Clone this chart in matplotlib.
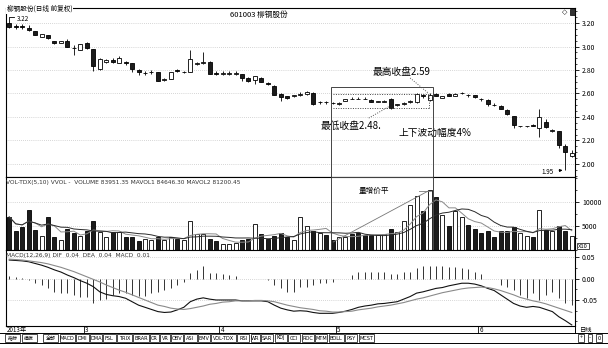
import numpy as np
import pandas as pd
import matplotlib
matplotlib.use('Agg')
import matplotlib.pyplot as plt
from matplotlib.patches import Rectangle
from matplotlib.ticker import AutoMinorLocator, FormatStrFormatter

plt.rcParams['font.family'] = ['Noto Sans CJK SC', 'DejaVu Sans']

# 601003 柳钢股份 daily candles
opens = [3.20, 3.172, 3.172, 3.16, 3.13, 3.08, 3.10, 3.045, 3.03, 3.05,
         2.99, 2.97, 3.03, 2.98, 2.81, 2.87, 2.885, 2.86, 2.866, 2.86,
         2.80, 2.772, 2.78, 2.78, 2.712, 2.72, 2.797, 2.78, 2.78, 2.85,
         2.86, 2.87, 2.776, 2.77, 2.77, 2.77, 2.765, 2.73, 2.715, 2.73,
         2.686, 2.66, 2.595, 2.575, 2.575, 2.585, 2.595, 2.60, 2.525, 2.53,
         2.52, 2.51, 2.54, 2.555, 2.555, 2.555, 2.545, 2.528, 2.53, 2.55,
         2.505, 2.51, 2.53, 2.53, 2.585, 2.545, 2.595, 2.565, 2.595, 2.58,
         2.60, 2.59, 2.59, 2.555, 2.545, 2.505, 2.495, 2.46, 2.41, 2.32,
         2.32, 2.328, 2.31, 2.36, 2.28, 2.28, 2.15, 2.07]
closes = [3.17, 3.166, 3.166, 3.14, 3.10, 3.11, 3.07, 3.03, 3.045, 3.00,
          2.985, 3.02, 2.99, 2.83, 2.89, 2.885, 2.87, 2.90, 2.86, 2.81,
          2.78, 2.778, 2.786, 2.71, 2.725, 2.78, 2.79, 2.786, 2.89, 2.856,
          2.866, 2.77, 2.77, 2.776, 2.776, 2.776, 2.735, 2.71, 2.745, 2.70,
          2.68, 2.59, 2.57, 2.565, 2.585, 2.595, 2.61, 2.51, 2.53, 2.525,
          2.515, 2.52, 2.55, 2.55, 2.55, 2.55, 2.53, 2.532, 2.54, 2.48,
          2.51, 2.52, 2.54, 2.595, 2.58, 2.59, 2.58, 2.575, 2.58, 2.595,
          2.605, 2.585, 2.57, 2.55, 2.51, 2.50, 2.47, 2.425, 2.33, 2.323,
          2.323, 2.322, 2.40, 2.315, 2.29, 2.16, 2.10, 2.09]
highs = [3.22, 3.19, 3.19, 3.18, 3.13, 3.11, 3.10, 3.05, 3.05, 3.06,
         3.01, 3.02, 3.04, 2.98, 2.90, 2.89, 2.90, 2.92, 2.88, 2.86,
         2.81, 2.79, 2.80, 2.78, 2.73, 2.78, 2.81, 2.79, 2.97, 2.87,
         2.95, 2.88, 2.79, 2.79, 2.79, 2.79, 2.77, 2.74, 2.75, 2.74,
         2.70, 2.67, 2.60, 2.58, 2.59, 2.61, 2.62, 2.61, 2.54, 2.54,
         2.53, 2.525, 2.555, 2.57, 2.57, 2.57, 2.55, 2.535, 2.545, 2.56,
         2.51, 2.525, 2.545, 2.60, 2.595, 2.60, 2.60, 2.58, 2.60, 2.60,
         2.615, 2.595, 2.59, 2.565, 2.55, 2.515, 2.50, 2.465, 2.41, 2.325,
         2.325, 2.34, 2.47, 2.38, 2.30, 2.28, 2.17, 2.12]
lows = [3.16, 3.15, 3.15, 3.13, 3.10, 3.08, 3.06, 3.02, 3.03, 3.00,
        2.93, 2.97, 2.98, 2.79, 2.80, 2.86, 2.86, 2.86, 2.84, 2.78,
        2.76, 2.76, 2.77, 2.71, 2.71, 2.72, 2.78, 2.775, 2.78, 2.84,
        2.85, 2.77, 2.76, 2.76, 2.76, 2.76, 2.71, 2.70, 2.68, 2.70,
        2.67, 2.59, 2.54, 2.55, 2.57, 2.58, 2.59, 2.50, 2.51, 2.51,
        2.51, 2.505, 2.535, 2.55, 2.55, 2.55, 2.53, 2.525, 2.525, 2.47,
        2.49, 2.505, 2.52, 2.52, 2.565, 2.54, 2.575, 2.56, 2.575, 2.575,
        2.595, 2.57, 2.565, 2.54, 2.49, 2.49, 2.465, 2.42, 2.31, 2.318,
        2.318, 2.32, 2.23, 2.31, 2.27, 2.14, 1.95, 2.06]
volume = [6900, 4000, 4800, 8300, 4200, 2900, 6900, 2700, 2100, 4400,
          3500, 2900, 4000, 6000, 3700, 2700, 3700, 3700, 2700, 2800,
          1900, 2200, 2100, 2800, 2100, 2700, 2200, 2100, 6000, 3300,
          3300, 2200, 1900, 1300, 1300, 1500, 2100, 2200, 5400, 3300,
          2200, 2900, 3500, 2800, 2100, 6900, 5000, 4000, 3500, 3100,
          2100, 2700, 2700, 3300, 3500, 3100, 3100, 3100, 3300, 4400,
          3800, 6000, 9400, 11200, 8100, 12500, 11000, 7300, 5000, 8100,
          6900, 5200, 4400, 3500, 4000, 2700, 4000, 4000, 4800, 3500,
          2900, 2700, 8300, 4200, 4000, 5000, 4000, 2900]
# MACD(12,26,9) values in thousandths
dif_k = [43, 42, 41, 39, 35, 31, 26, 20, 15, 8, 2, -5, -11, -19, -31, -37,
         -40, -42, -46, -54, -62, -67, -72, -77, -79, -78, -73, -67, -54, -48,
         -45, -48, -50, -50, -50, -50, -52, -52, -52, -52, -54, -62, -69, -73,
         -76, -75, -76, -79, -81, -81, -81, -79, -76, -72, -67, -64, -62, -59,
         -58, -56, -54, -48, -42, -34, -31, -27, -23, -21, -17, -14, -11, -11,
         -13, -17, -23, -28, -38, -48, -58, -64, -67, -65, -67, -72, -77, -89,
         -98, -108]
dea_k = [45, 44, 43, 41, 39, 37, 34, 30, 26, 21, 16, 10, 4, -2, -8, -15,
         -21, -27, -32, -38, -44, -50, -56, -62, -65, -69, -71, -72, -70, -67,
         -64, -60, -58, -55, -54, -52, -52, -52, -51, -51, -52, -54, -58, -62,
         -65, -68, -70, -72, -75, -76, -78, -78, -77, -76, -73, -71, -69, -66,
         -64, -62, -59, -56, -52, -48, -45, -41, -37, -33, -30, -27, -24, -22,
         -21, -20, -21, -24, -28, -33, -38, -44, -48, -52, -55, -59, -64, -69,
         -74, -79]
macd_k = [5, 3, 1, -4, -11, -15, -21, -31, -33, -34, -38, -42, -42, -56, -50,
          -48, -38, -34, -34, -38, -41, -41, -34, -31, -27, -23, -15, -7, 12,
          20, 28, 12, 12, 10, 8, 6, 0, -2, 0, 0, -3, -15, -23, -31, -31, -19,
          -19, -15, -11, -11, -7, -2, 0, 8, 14, 16, 14, 14, 16, 10, 10, 14, 16,
          24, 28, 29, 29, 28, 26, 26, 24, 21, 16, 10, 0, -2, -15, -19, -27,
          -38, -46, -34, -50, -38, -31, -46, -58, -62]

month_pos = [12, 33, 51, 73]
month_lbl = ['3', '4', '5', '6']
price_ticks = [2.00, 2.20, 2.40, 2.60, 2.80, 3.00, 3.20]
vol_ticks = [5000, 10000]
macd_ticks = [-0.05, 0.00, 0.05]
buttons = ['指标', '模板', '全部', 'MACD', 'DMI', 'DMA', 'FSL', 'TRIX', 'BRAR',
           'CR', 'VR', 'OBV', 'ASI', 'EMV', 'VOL-TDX', 'RSI', 'WR', 'SAR',
           'KDJ', 'CCI', 'ROC', 'MTM', 'BOLL', 'PSY', 'MCST']

W, H = 608, 348


def rect(x0, y0, x1, y1):
    # pixel box -> figure fraction [l, b, w, h]
    return [x0 / W, 1 - y1 / H, (x1 - x0) / W, (y1 - y0) / H]


def fx(x):
    return x / W


def fy(y):
    return 1 - y / H


fig = plt.figure(figsize=(6.08, 3.48), dpi=100)
ax_p = fig.add_axes(rect(6, 8, 575, 177))
ax_v = fig.add_axes(rect(6, 177, 575, 250))
ax_m = fig.add_axes(rect(6, 250, 575, 326))

n = len(closes)
x = np.arange(n)
o, c, h, l = map(np.array, (opens, closes, highs, lows))
up = c >= o
dark = '#1c1c1c'

for ax in (ax_p, ax_v, ax_m):
    ax.set_xlim(-0.5, n - 0.5)
    ax.set_xticks([])
    ax.yaxis.tick_right()
    ax.tick_params(axis='y', which='major', length=3, width=0.6, labelsize=5, pad=2)
    ax.tick_params(axis='y', which='minor', length=1.5, width=0.5)
    ax.grid(axis='y', linestyle=(0, (1, 2)), color='#b0b0b0', lw=0.5)
    ax.set_axisbelow(True)
    for s in ax.spines.values():
        s.set_linewidth(0.8)

# price panel
ax_p.set_ylim(1.889, 3.328)
ax_p.set_yticks(price_ticks)
ax_p.yaxis.set_major_formatter(FormatStrFormatter('%.2f'))
ax_p.yaxis.set_minor_locator(AutoMinorLocator(4))
ax_p.vlines(x, l, h, color='black', lw=0.6, zorder=2)
body = np.maximum(np.abs(c - o), 0.004)
low_side = np.minimum(o, c)
ax_p.bar(x[up], body[up], bottom=low_side[up], width=0.62, color='white',
         edgecolor='black', lw=0.6, zorder=3)
ax_p.bar(x[~up], body[~up], bottom=low_side[~up], width=0.62, color=dark,
         edgecolor='black', lw=0.6, zorder=3)

# annotations on price panel
box_x0, box_x1, box_top = 49.7, 65.5, 2.655
ax_p.add_patch(Rectangle((box_x0, 1.889), box_x1 - box_x0, box_top - 1.889,
                         fill=False, ec='#444', lw=0.7, zorder=4))
ax_p.hlines([2.595, 2.48], 50.0, 64.9, colors='#444', linestyles=(0, (1, 1.5)), lw=0.7, zorder=4)
ax_p.vlines(64.9, 2.48, 2.595, colors='#444', linestyles=(0, (1, 1.5)), lw=0.7, zorder=4)
ax_p.plot([62.0, 64.8], [2.732, 2.604], color='#555', ls=(0, (1, 1.5)), lw=0.7)
ax_p.plot([55.6, 58.9], [2.391, 2.494], color='#555', ls=(0, (1, 1.5)), lw=0.7)
ax_p.text(60.7, 2.783, '最高收盘2.59', fontsize=7, ha='center', va='center')
ax_p.text(52.9, 2.323, '最低收盘2.48.', fontsize=7, ha='center', va='center')
ax_p.text(65.8, 2.262, '上下波动幅度4%', fontsize=7, ha='center', va='center')
ax_p.annotate('1.95', xy=(86, 1.95), xytext=(82.3, 1.932), fontsize=4.5, va='center',
              arrowprops=dict(arrowstyle='-|>', lw=0.6, color='black', mutation_scale=4))
ax_p.plot([0, 0, 0.7], [3.22, 3.25, 3.25], color='black', lw=0.6)
ax_p.text(1.1, 3.235, '3.22', fontsize=4.5, va='center')

# volume panel
ax_v.set_ylim(0, 15208)
ax_v.set_yticks(vol_ticks)
ax_v.yaxis.set_minor_locator(AutoMinorLocator(2))
vol = np.array(volume)
ax_v.bar(x[up], vol[up], width=0.62, color='white', edgecolor='black', lw=0.6, zorder=3)
ax_v.bar(x[~up], vol[~up], width=0.62, color=dark, edgecolor='black', lw=0.6, zorder=3)
vs = pd.Series(volume, dtype=float)
ax_v.plot(x, vs.rolling(5, min_periods=1).mean(), color='#8a8a8a', lw=0.7, zorder=4)
ax_v.plot(x, vs.rolling(10, min_periods=1).mean(), color='#2a2a2a', lw=0.7, zorder=4)
ax_v.add_patch(Rectangle((box_x0, -420), box_x1 - box_x0, 15208 + 420, fill=False,
                         ec='#444', lw=0.7, zorder=5, clip_on=False))
ax_v.plot([50.1, 64.8], [1667, 12290], color='#777', lw=0.6, zorder=5)
ax_v.plot([63.3, 65.2], [12290, 12290], color='#777', lw=0.6, zorder=5)
ax_v.text(56.4, 12290, '量增价平', fontsize=5.5, ha='center', va='center', zorder=6)
ax_v.text(0.0, 0.92, 'VOL-TDX(5,10) VVOL -  VOLUME 83951.35 MAVOL1 84646.30 MAVOL2 81200.45',
          transform=ax_v.transAxes, fontsize=4.2, va='center', ha='left', color='#333',
          family='DejaVu Sans')
fig.text(fx(578), fy(246), 'X10', fontsize=4.2, va='center', ha='left',
         bbox=dict(boxstyle='square,pad=0.15', fc='white', ec='black', lw=0.5))

# MACD panel
ax_m.set_ylim(-0.1105, 0.0663)
ax_m.set_yticks(macd_ticks)
ax_m.yaxis.set_major_formatter(FormatStrFormatter('%.2f'))
ax_m.yaxis.set_minor_locator(AutoMinorLocator(2))
macd = np.array(macd_k) / 1000
ax_m.vlines(x, 0, macd, color='#333', lw=0.7)
ax_m.plot(x, np.array(dif_k) / 1000, color='#111', lw=0.8)
ax_m.plot(x, np.array(dea_k) / 1000, color='#8a8a8a', lw=0.8)
ax_m.text(0.0, 0.93, 'MACD(12,26,9) DIF  0.04  DEA  0.04  MACD  0.01',
          transform=ax_m.transAxes, fontsize=4.2, va='center', ha='left', color='#333',
          family='DejaVu Sans')

# date row
tr = ax_m.get_xaxis_transform()
for m, lab in zip(month_pos, month_lbl):
    ax_m.plot([m - 0.5, m - 0.5], [0, -0.09], transform=tr, color='black', lw=0.6, clip_on=False)
    ax_m.text(m - 0.3, -0.05, lab, transform=tr, fontsize=4.5, va='center', ha='left')
fig.text(fx(7), fy(329.5), '2013年', fontsize=4.5, va='center', ha='left')
fig.add_artist(plt.Line2D([fx(0), fx(608)], [fy(333), fy(333)], color='black', lw=0.7))
fig.add_artist(plt.Line2D([fx(575), fx(575)], [fy(326), fy(333)], color='black', lw=0.7))
fig.add_artist(plt.Line2D([fx(0), fx(608)], [fy(343), fy(343)], color='black', lw=0.7))

# indicator button bar
bx = 5.0
for i, b in enumerate(buttons):
    wide = sum(2 if ord(ch) > 255 else 1 for ch in b)
    bw = 3.0 + wide * 3.1
    fig.add_artist(Rectangle((fx(bx), fy(342)), bw / W, 8 / H, transform=fig.transFigure,
                             fill=True, fc='white', ec='black', lw=0.5))
    fig.text(fx(bx + bw / 2), fy(338), b, fontsize=3.6, ha='center', va='center',
             family=['DejaVu Sans', 'Noto Sans CJK SC'] if wide == len(b) else None)
    bx += bw + (6 if i == 1 else 1.2)
fig.text(fx(586), fy(329.5), '日线', fontsize=4.5, ha='center', va='center')
for j, s in enumerate(['+', '-', '0']):
    fig.text(fx(581 + j * 9), fy(338), s, fontsize=4.2, ha='center', va='center',
             bbox=dict(boxstyle='square,pad=0.2', fc='white', ec='black', lw=0.5))

# titles
fig.text(fx(7), fy(9), '柳钢股份(日线 前复权)', fontsize=4.8, va='center', ha='left',
         bbox=dict(boxstyle='square,pad=0.1', fc='white', ec='none'))
fig.text(fx(230), fy(15), '601003 柳钢股份', fontsize=5.5, va='center', ha='left')
fig.text(fx(565), fy(12), '◇', fontsize=5, va='center', ha='center', family='DejaVu Sans')
fig.add_artist(Rectangle((fx(570), fy(15)), 5 / W, 6 / H, transform=fig.transFigure,
                         fc='#333', ec='black', lw=0.5))

fig.savefig('out.png', dpi=100, facecolor='white')
